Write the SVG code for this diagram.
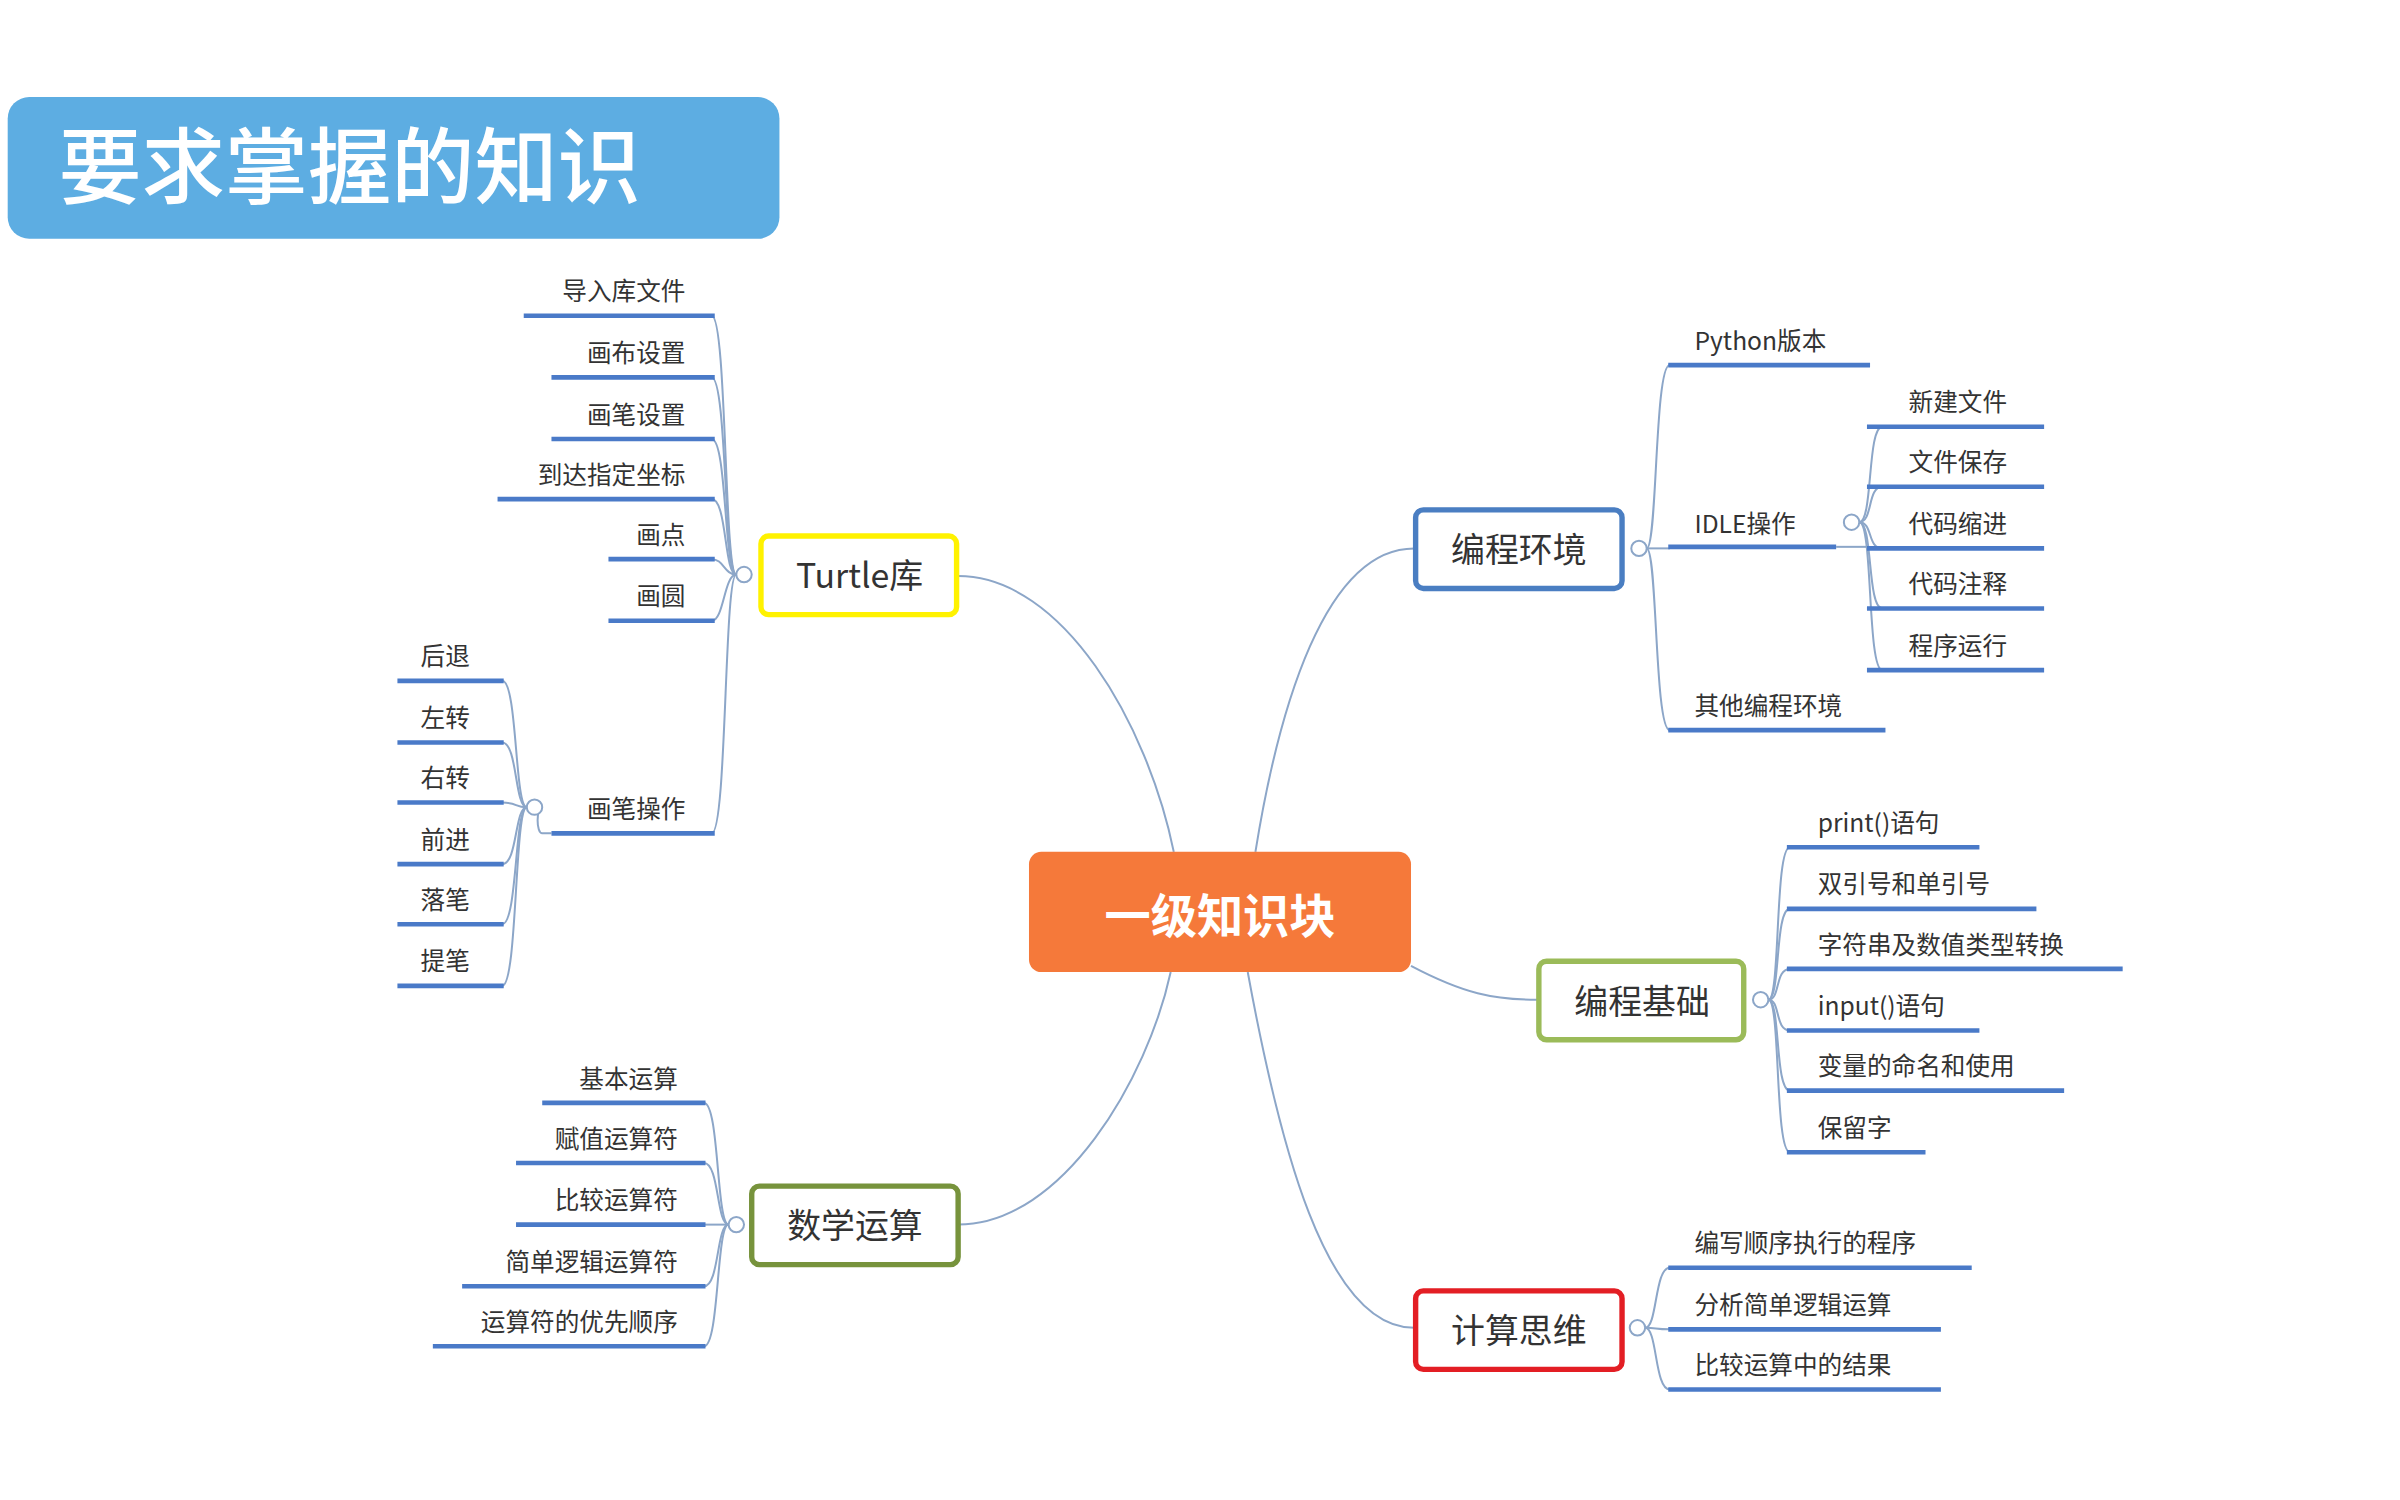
<svg xmlns="http://www.w3.org/2000/svg" width="2400" height="1500" viewBox="0 0 2400 1500">
<style>
.t{font-family:"Noto Sans CJK SC","Noto Sans",sans-serif;font-size:16px;fill:#333}
.e{text-anchor:end}
.n{font-family:"Noto Sans CJK SC","Noto Sans",sans-serif;font-size:22px;fill:#333;text-anchor:middle}
.u{stroke:#4A7AC8;stroke-width:3;fill:none}
.c{stroke:#8CA6C8;stroke-width:1.3;fill:none}
.m{stroke:#8CA6C8;stroke-width:1.3;fill:#fff}
.box{fill:#fff;stroke-width:3.5}
</style>
<rect width="2400" height="1500" fill="#fff"/>
<g transform="scale(1.5404)">
<g id="title"><rect x="5" y="63" width="501" height="92" rx="14" fill="#5DADE2"/>
<text x="38" y="128" font-family="Noto Sans CJK SC,sans-serif" font-size="54" font-weight="500" fill="#fff">要求掌握的知识</text></g>

<g id="connectors">
<path class="c" d="M762,553 C745,470 690,374 622,374"/>
<path class="c" d="M815,553 C830,460 860,356 918,356"/>
<path class="c" d="M916,627 C950,645 970,649 998,649"/>
<path class="c" d="M760,631 C745,700 690,795 622,795"/>
<path class="c" d="M810,631 C830,740 860,862 918,862"/>
<!-- Turtle -->
<g id="tc">
<path class="c" d="M478,373 C470,373 472,205 462,205"/>
<path class="c" d="M478,373 C470,373 472,245 462,245"/>
<path class="c" d="M478,373 C470,373 472,285 462,285"/>
<path class="c" d="M478,373 C470,373 472,324 462,324"/>
<path class="c" d="M478,373 C470,373 470,363 462,363"/>
<path class="c" d="M478,373 C470,373 470,403 462,403"/>
<path class="c" d="M478,373 C470,373 472,541 462,541"/>
<path class="c" d="M342,524 C334,524 336,442 326,442"/>
<path class="c" d="M342,524 C334,524 336,482 326,482"/>
<path class="c" d="M342,524 C334,524 336,521 326,521"/>
<path class="c" d="M342,524 C334,524 336,561 326,561"/>
<path class="c" d="M342,524 C334,524 336,600 326,600"/>
<path class="c" d="M342,524 C334,524 336,640 326,640"/>
<path class="c" d="M358,541 L352,541 C348,541 348,524 352,524"/>
</g>
<!-- 数学 -->
<path class="c" d="M473,795 C465,795 467,716 457,716"/>
<path class="c" d="M473,795 C465,795 467,755 457,755"/>
<path class="c" d="M473,795 C465,795 465,795 457,795"/>
<path class="c" d="M473,795 C465,795 467,835 457,835"/>
<path class="c" d="M473,795 C465,795 467,874 457,874"/>
<!-- 编程环境 -->
<path class="c" d="M1069,356 C1076,356 1074,237 1084,237"/>
<path class="c" d="M1069,356 L1084,356"/>
<path class="c" d="M1069,356 C1076,356 1074,474 1084,474"/>
<path class="c" d="M1192,355 L1212,355"/>
<path class="c" d="M1207,339 C1216,339 1212,277 1222,277"/>
<path class="c" d="M1207,339 C1216,339 1212,316 1222,316"/>
<path class="c" d="M1207,339 C1216,339 1212,356 1222,356"/>
<path class="c" d="M1207,339 C1216,339 1212,395 1222,395"/>
<path class="c" d="M1207,339 C1216,339 1212,435 1222,435"/>
<!-- 编程基础 -->
<path class="c" d="M1148,649 C1156,649 1152,550 1162,550"/>
<path class="c" d="M1148,649 C1156,649 1152,590 1162,590"/>
<path class="c" d="M1148,649 C1156,649 1152,629 1162,629"/>
<path class="c" d="M1148,649 C1156,649 1152,669 1162,669"/>
<path class="c" d="M1148,649 C1156,649 1152,708 1162,708"/>
<path class="c" d="M1148,649 C1156,649 1152,748 1162,748"/>
<!-- 计算思维 -->
<path class="c" d="M1068,862 C1076,862 1074,823 1084,823"/>
<path class="c" d="M1068,862 C1076,862 1074,863 1084,863"/>
<path class="c" d="M1068,862 C1076,862 1074,902 1084,902"/>
<g id="collapse">
<circle class="m" cx="483" cy="373" r="5"/><circle class="m" cx="347" cy="524" r="5"/>
<circle class="m" cx="478" cy="795" r="5"/><circle class="m" cx="1064" cy="356" r="5"/>
<circle class="m" cx="1202" cy="339" r="5"/><circle class="m" cx="1143" cy="649" r="5"/>
<circle class="m" cx="1063" cy="862" r="5"/>
</g>
</g>

<g id="center"><rect x="668" y="553" width="248" height="78" rx="8" fill="#F5793A"/>
<text x="792" y="606" text-anchor="middle" font-family="Noto Sans CJK SC,sans-serif" font-size="30" font-weight="bold" fill="#fff">一级知识块</text></g>
<g id="turtle"><rect class="box" x="494" y="348" width="127" height="51" rx="5" stroke="#FFF200"/><text class="n" x="558" y="382">Turtle库</text></g>
<g id="env"><rect class="box" x="919" y="331" width="134" height="51" rx="5" stroke="#4A7EC2"/><text class="n" x="986" y="365">编程环境</text></g>
<g id="basic"><rect class="box" x="999" y="624" width="133" height="51" rx="5" stroke="#9BBB59"/><text class="n" x="1066" y="658">编程基础</text></g>
<g id="math"><rect class="box" x="488" y="770" width="134" height="51" rx="5" stroke="#77933C"/><text class="n" x="555" y="804">数学运算</text></g>
<g id="think"><rect class="box" x="919" y="838" width="134" height="51" rx="5" stroke="#E31E24"/><text class="n" x="986" y="872">计算思维</text></g>

<g id="turtle-leaves">
<text class="t e" x="445" y="195">导入库文件</text><path class="u" d="M340,205H464"/>
<text class="t e" x="445" y="235">画布设置</text><path class="u" d="M358,245H464"/>
<text class="t e" x="445" y="275">画笔设置</text><path class="u" d="M358,285H464"/>
<text class="t e" x="445" y="314">到达指定坐标</text><path class="u" d="M323,324H464"/>
<text class="t e" x="445" y="353">画点</text><path class="u" d="M395,363H464"/>
<text class="t e" x="445" y="393">画圆</text><path class="u" d="M395,403H464"/>
<text class="t e" x="445" y="531">画笔操作</text><path class="u" d="M358,541H464"/>
<text class="t" x="273" y="432">后退</text><path class="u" d="M258,442H327"/>
<text class="t" x="273" y="472">左转</text><path class="u" d="M258,482H327"/>
<text class="t" x="273" y="511">右转</text><path class="u" d="M258,521H327"/>
<text class="t" x="273" y="551">前进</text><path class="u" d="M258,561H327"/>
<text class="t" x="273" y="590">落笔</text><path class="u" d="M258,600H327"/>
<text class="t" x="273" y="630">提笔</text><path class="u" d="M258,640H327"/>
</g>
<g id="math-leaves">
<text class="t e" x="440" y="706">基本运算</text><path class="u" d="M352,716H458"/>
<text class="t e" x="440" y="745">赋值运算符</text><path class="u" d="M335,755H458"/>
<text class="t e" x="440" y="785">比较运算符</text><path class="u" d="M335,795H458"/>
<text class="t e" x="440" y="825">简单逻辑运算符</text><path class="u" d="M300,835H458"/>
<text class="t e" x="440" y="864">运算符的优先顺序</text><path class="u" d="M281,874H458"/>
</g>
<g id="env-leaves">
<text class="t" x="1100" y="227">Python版本</text><path class="u" d="M1083,237H1214"/>
<text class="t" x="1100" y="346">IDLE操作</text><path class="u" d="M1083,355H1192"/>
<text class="t" x="1100" y="464">其他编程环境</text><path class="u" d="M1083,474H1224"/>
<text class="t" x="1239" y="267">新建文件</text><path class="u" d="M1212,277H1327"/>
<text class="t" x="1239" y="306">文件保存</text><path class="u" d="M1212,316H1327"/>
<text class="t" x="1239" y="346">代码缩进</text><path class="u" d="M1212,356H1327"/>
<text class="t" x="1239" y="385">代码注释</text><path class="u" d="M1212,395H1327"/>
<text class="t" x="1239" y="425">程序运行</text><path class="u" d="M1212,435H1327"/>
</g>
<g id="basic-leaves">
<text class="t" x="1180" y="540">print()语句</text><path class="u" d="M1160,550H1285"/>
<text class="t" x="1180" y="580">双引号和单引号</text><path class="u" d="M1160,590H1322"/>
<text class="t" x="1180" y="619">字符串及数值类型转换</text><path class="u" d="M1160,629H1378"/>
<text class="t" x="1180" y="659">input()语句</text><path class="u" d="M1160,669H1285"/>
<text class="t" x="1180" y="698">变量的命名和使用</text><path class="u" d="M1160,708H1340"/>
<text class="t" x="1180" y="738">保留字</text><path class="u" d="M1160,748H1250"/>
</g>
<g id="think-leaves">
<text class="t" x="1100" y="813">编写顺序执行的程序</text><path class="u" d="M1083,823H1280"/>
<text class="t" x="1100" y="853">分析简单逻辑运算</text><path class="u" d="M1083,863H1260"/>
<text class="t" x="1100" y="892">比较运算中的结果</text><path class="u" d="M1083,902H1260"/>
</g>
</g>
</svg>
